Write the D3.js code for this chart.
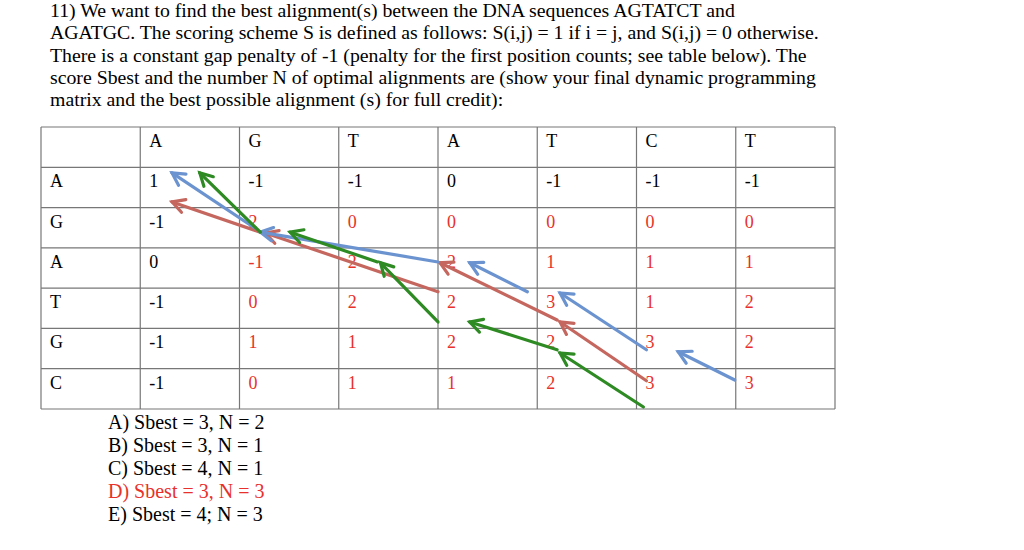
<!DOCTYPE html>
<html><head><meta charset="utf-8">
<script src="https://cdn.jsdelivr.net/npm/d3@7"></script>
<style>body{margin:0;background:#fff}svg{font-family:"Liberation Serif","Times New Roman",serif}</style>
</head><body><svg id="c" width="1024" height="550"></svg>
<script>
const titleLines = [
  "11) We want to find the best alignment(s) between the DNA sequences AGTATCT and",
  "AGATGC. The scoring scheme S is defined as follows: S(i,j) = 1 if i = j, and S(i,j) = 0 otherwise.",
  "There is a constant gap penalty of -1 (penalty for the first position counts; see table below). The",
  "score Sbest and the number N of optimal alignments are (show your final dynamic programming",
  "matrix and the best possible alignment (s) for full credit):"
];
const colSeq = ["A", "G", "T", "A", "T", "C", "T"];
const rowSeq = ["A", "G", "A", "T", "G", "C"];
const matrix = [
  [1, -1, -1, 0, -1, -1, -1],
  [-1, 2, 0, 0, 0, 0, 0],
  [0, -1, 2, 2, 1, 1, 1],
  [-1, 0, 2, 2, 3, 1, 2],
  [-1, 1, 1, 2, 2, 3, 2],
  [-1, 0, 1, 1, 2, 3, 3]
];
const options = ["A) Sbest = 3, N = 2", "B) Sbest = 3, N = 1", "C) Sbest = 4, N = 1", "D) Sbest = 3, N = 3", "E) Sbest = 4; N = 3"];
const correctOption = 3;
// arrows in table units: [col0,row0,col1,row1]
const blueArrows = [[4.0,3.35,2.21,2.61],[2.15,2.5,1.32,1.14],[4.9,4.09,4.32,3.37],[6.1,5.53,5.23,4.12],[6.99,6.28,6.42,5.58]];
const redArrows = [[6.1,6.3,5.23,4.84],[5.2,4.79,4.02,3.37],[4.0,4.09,2.26,2.63],[2.23,2.63,1.32,1.86]];
const greenArrows = [[6.07,6.95,5.23,5.61],[5.2,5.53,4.32,4.84],[4.0,4.84,3.42,3.37],[3.39,3.35,2.51,2.61],[2.21,2.61,1.6,1.14]];

const svg = d3.select("#c");
const x = d3.scaleLinear().domain([0, 8]).range([41, 835]);
const y = d3.scaleLinear().domain([0, 7]).range([127, 409]);

svg.selectAll(".title").data(titleLines).join("text")
  .attr("x", 50).attr("y", (d, i) => 17 + i * 22.3)
  .attr("font-size", 19.8).text(d => d);

// grid
svg.append("g").selectAll("line").data(d3.range(9)).join("line")
  .attr("x1", d => x(d)).attr("x2", d => x(d)).attr("y1", y(0)).attr("y2", y(7))
  .attr("stroke", "#777").attr("stroke-width", 1.2);
svg.append("g").selectAll("line").data(d3.range(8)).join("line")
  .attr("y1", d => y(d)).attr("y2", d => y(d)).attr("x1", x(0)).attr("x2", x(8))
  .attr("stroke", "#777").attr("stroke-width", 1.2);

const cellText = (c, r, t, col) => svg.append("text")
  .attr("x", x(c) + 9).attr("y", y(r) + 20).attr("font-size", 18)
  .attr("fill", col).text(t);
colSeq.forEach((s, j) => cellText(j + 1, 0, s, "#000"));
rowSeq.forEach((s, i) => cellText(0, i + 1, s, "#000"));
matrix.forEach((row, i) => row.forEach((v, j) =>
  cellText(j + 1, i + 1, v, (i === 0 || j === 0) ? "#000" : "#e8312a")));

const drawArrows = (data, color) => {
  const g = svg.append("g").attr("stroke", color).attr("fill", "none")
    .attr("stroke-width", 3.2).attr("stroke-linecap", "round");
  data.forEach(a => {
    const x0 = x(a[0]), y0 = y(a[1]), x1 = x(a[2]), y1 = y(a[3]);
    g.append("line").attr("x1", x0).attr("y1", y0).attr("x2", x1).attr("y2", y1);
    const ang = Math.atan2(y0 - y1, x0 - x1), L = 14, w = 0.5;
    g.append("polyline").attr("points", [
      [x1 + L * Math.cos(ang + w), y1 + L * Math.sin(ang + w)],
      [x1, y1],
      [x1 + L * Math.cos(ang - w), y1 + L * Math.sin(ang - w)]
    ].map(p => p.join(",")).join(" "));
  });
};
drawArrows(redArrows, "#c5675e");
drawArrows(blueArrows, "#6b93cf");
drawArrows(greenArrows, "#2e8a23");

svg.selectAll(".opt").data(options).join("text")
  .attr("x", 108).attr("y", (d, i) => 429 + i * 23)
  .attr("font-size", 20).attr("fill", (d, i) => i === correctOption ? "#e8312a" : "#000")
  .text(d => d);
</script></body></html>
